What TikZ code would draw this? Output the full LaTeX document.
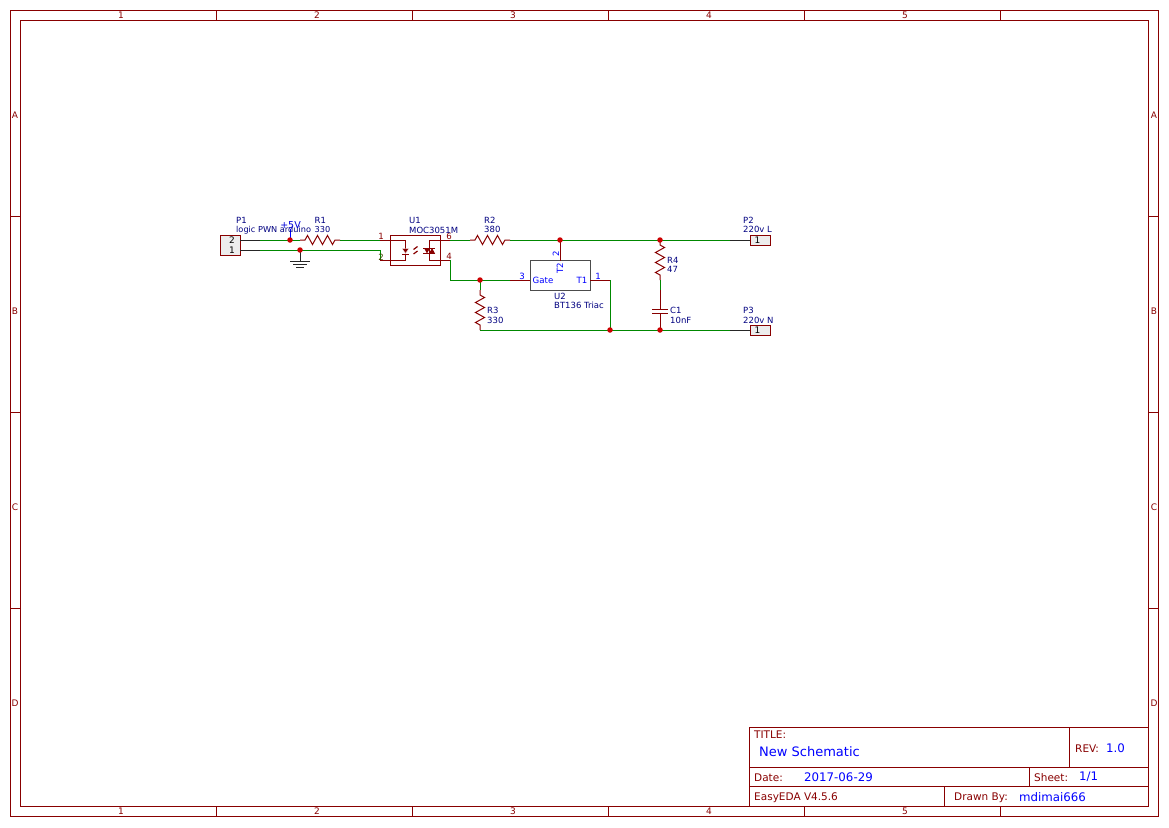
\documentclass[tikz,border=0pt]{standalone}
\usepackage{fontspec}
\setmainfont{DejaVu Sans}
\definecolor{sheetred}{RGB}{136,0,0}
\definecolor{wiregreen}{RGB}{0,136,0}
\definecolor{netblue}{RGB}{0,0,128}
\definecolor{pinblue}{RGB}{0,0,255}
\definecolor{dotred}{RGB}{204,0,0}
\tikzset{
  sheet/.style={draw=sheetred,line width=1pt},
  wire/.style={draw=wiregreen,line width=1pt},
  partline/.style={draw=sheetred,line width=1pt},
  lead/.style={draw=black!85,line width=1pt},
  junction/.style={circle,fill=dotred,inner sep=0pt,minimum size=5.5pt},
  sheettext/.style={text=sheetred,font=\fontsize{9}{9}\selectfont,inner sep=0pt},
  titletext/.style={text=sheetred,font=\fontsize{10.5}{10.5}\selectfont,anchor=west,inner sep=0pt},
  titlevalue/.style={text=pinblue,font=\fontsize{11.8}{11.8}\selectfont,anchor=west,inner sep=0pt},
  partlabel/.style={text=netblue,font=\fontsize{8.5}{8.5}\selectfont,anchor=west,inner sep=0pt},
  pinname/.style={text=pinblue,font=\fontsize{8.6}{8.6}\selectfont,inner sep=0pt},
  pinnum/.style={text=sheetred,font=\fontsize{8.6}{8.6}\selectfont,inner sep=0pt},
}
\begin{document}
\begin{tikzpicture}[x=1pt,y=1pt,yscale=-1]
\useasboundingbox (0,0) rectangle (1169,827);

%Sheet frame
\draw [sheet] (10,10.5) rectangle (1158.5,816);
\draw [sheet] (20,20.5) rectangle (1148.5,806);
%Zone ticks, top and bottom
\draw [sheet] (216,10.5) -- (216,20.5) (412,10.5) -- (412,20.5) (608,10.5) -- (608,20.5) (804,10.5) -- (804,20.5) (1000,10.5) -- (1000,20.5) ;
\draw [sheet] (216,806) -- (216,816) (412,806) -- (412,816) (608,806) -- (608,816) (804,806) -- (804,816) (1000,806) -- (1000,816) ;
%Zone ticks, left and right
\draw [sheet] (10,216) -- (20,216) (10,412) -- (20,412) (10,608) -- (20,608) ;
\draw [sheet] (1148.5,216) -- (1158.5,216) (1148.5,412) -- (1158.5,412) (1148.5,608) -- (1158.5,608) ;

% Zone labels
\foreach \zn/\zx in {1/121,2/317,3/513,4/709,5/905} {
  \node [sheettext] (top\zn) at (\zx,15.5) {\zn};
  \node [sheettext] (bot\zn) at (\zx,811) {\zn};
}
\foreach \zn/\zy in {A/115,B/311,C/507,D/703} {
  \node [sheettext] (left\zn) at (15,\zy) {\zn};
  \node [sheettext] (right\zn) at (1154,\zy) {\zn};
}

%Title block
\draw [sheet] (749,727) rectangle (1148.5,806);
\draw [sheet] (749,767) -- (1148.5,767) (749,786) -- (1148.5,786) ;
\draw [sheet] (1069,727) -- (1069,767) (1029,767) -- (1029,786) (944,786) -- (944,806) ;
% Title block text
\node [titletext] (titlekey) at (754,734.5) {TITLE:};
\node [titlevalue,font=\fontsize{13}{13}\selectfont] (titleval) at (759,751.5) {New Schematic};
\node [titletext] (revkey) at (1075,748.5) {REV:};
\node [titlevalue] (revval) at (1106,748.5) {1.0};
\node [titletext] (datekey) at (754,777.5) {Date:};
\node [titlevalue] (dateval) at (804,777) {2017-06-29};
\node [titletext] (sheetkey) at (1034,777.5) {Sheet:};
\node [titlevalue] (sheetval) at (1079,777) {1/1};
\node [titletext] (version) at (754,797.5) {EasyEDA V4.5.6};
\node [titletext] (drawnkey) at (954,797.5) {Drawn By:};
\node [titlevalue] (drawnval) at (1019,797) {mdimai666};

% Named points of the net
\coordinate (p1a) at (240,240);
\coordinate (p1ae) at (260,240);
\coordinate (p1b) at (240,250);
\coordinate (p1be) at (260,250);
\coordinate (r1a) at (300,240);
\coordinate (r1b) at (340,240);
\coordinate (u1a) at (380,240);
\coordinate (u1b) at (380,260);
\coordinate (u1bk) at (380,250);
\coordinate (u1f) at (450,240);
\coordinate (u1d) at (450,260);
\coordinate (u1dk) at (450,280);
\coordinate (r2a) at (470,240);
\coordinate (r2b) at (510,240);
\coordinate (p2a) at (730,240);
\coordinate (p2b) at (750,240);
\coordinate (r3a) at (480,290);
\coordinate (r3b) at (480,330);
\coordinate (u2g) at (510,280);
\coordinate (u2t) at (610,280);
\coordinate (r4a) at (660,280);
\coordinate (c1a) at (660,290);
\coordinate (p3a) at (730,330);
\coordinate (p3b) at (750,330);

%Wires
\draw [wire] (p1ae) -- (r1a) ;
\draw [wire] (r1b) -- (u1a) ;
\draw [wire] (p1be) -- (u1bk) -- (u1b) ;
\draw [wire] (u1f) -- (r2a) ;
\draw [wire] (r2b) -- (p2a) ;
\draw [wire] (u1d) -- (u1dk) -- (u2g) ;
\draw [wire] (u1dk -| r3a) -- (r3a) ;
\draw [wire] (r3b) -- (p3a) ;
\draw [wire] (u2t) -- (u2t |- r3b) ;
\draw [wire] (r4a) -- (c1a) ;

%Connector P1
\draw [partline,fill=black!7] (220,235.5) rectangle (240,255.5) ;
\draw [lead] (p1a) -- (p1ae) (p1b) -- (p1be) ;
\node [inner sep=0pt,font=\fontsize{9}{9}\selectfont] (p1n2) at (232,240.5) {2};
\node [inner sep=0pt,font=\fontsize{9}{9}\selectfont] (p1n1) at (232,250.5) {1};
%Connector P2
\draw [partline,fill=black!7] (750,235.5) rectangle (770,245.5) ;
\draw [lead] (p2a) -- (p2b) ;
\node [inner sep=0pt,font=\fontsize{9}{9}\selectfont] (p2n1) at (757.5,240.5) {1};
%Connector P3
\draw [partline,fill=black!7] (750,325.5) rectangle (770,335.5) ;
\draw [lead] (p3a) -- (p3b) ;
\node [inner sep=0pt,font=\fontsize{9}{9}\selectfont] (p3n1) at (757.5,330.5) {1};

%Power flag +5V
\coordinate (j5vpt) at (290,240);
\coordinate (flagtop) at (290,229);
\draw [draw=pinblue,line width=1pt] (j5vpt) -- (flagtop) ;
%Ground
\coordinate (jgndpt) at (300,250);
\coordinate (gndtop) at (300,261);
\draw [lead] (jgndpt) -- (gndtop) ;
\draw [lead] (290,261) -- (310,261) (293,264) -- (307,264) (296,267) -- (304,267) ;

%Resistor R1
\draw [partline] (r1a) -- (305,240) -- (307.5,235.5) -- (312.5,244.5) -- (317.5,235.5) -- (322.5,244.5) -- (327.5,235.5) -- (332.5,244.5) -- (335,240) -- (r1b) ;
%Resistor R2
\draw [partline] (r2a) -- (475,240) -- (477.5,235.5) -- (482.5,244.5) -- (487.5,235.5) -- (492.5,244.5) -- (497.5,235.5) -- (502.5,244.5) -- (505,240) -- (r2b) ;
%Resistor R3
\draw [partline] (r3a) -- (480,295) -- (484.5,297.5) -- (475.5,302.5) -- (484.5,307.5) -- (475.5,312.5) -- (484.5,317.5) -- (475.5,322.5) -- (480,325) -- (r3b) ;
%Resistor R4
\draw [partline] (660,240) -- (660,245) -- (664.5,247.5) -- (655.5,252.5) -- (664.5,257.5) -- (655.5,262.5) -- (664.5,267.5) -- (655.5,272.5) -- (660,275) -- (r4a) ;
%Capacitor C1
\draw [partline] (c1a) -- (660,309) (652,309) -- (668,309) (652,313) -- (668,313) (660,313) -- (660,330) ;

%Optocoupler U1
\draw [partline] (390,235.5) rectangle (440,265.5) ;
\draw [partline] (u1a) -- (405,240) -- (405,260) -- (u1b) ;
\draw [partline] (u1f) -- (429.5,240) -- (429.5,260) -- (u1d) ;
\fill [sheetred,draw=white,line width=0.4pt] (402,248.5) -- (409,248.5) -- (405.5,253.5) -- cycle ;
\draw [partline,line width=0.8pt] (402,254) -- (409,254) ;
\draw [partline,line width=1.2pt] (413.5,249.5) -- (417.5,246.5) (413.5,254) -- (417.5,251) ;
\fill [sheetred] (424,248) -- (430,248) -- (427,253.5) -- cycle ;
\fill [sheetred] (429,253.5) -- (435,253.5) -- (432,248) -- cycle ;
\draw [partline,line width=0.8pt] (423,248) -- (435,248) (423,253.8) -- (435,253.8) ;

%Triac U2
\draw [draw=black!70,line width=1pt] (530,260.5) rectangle (590,290.5) ;
\draw [partline] (560,240) -- (560,260.5) ;
\draw [partline] (u2g) -- (530,280) ;
\draw [partline] (590,280) -- (u2t) ;

% Junctions
\node [junction] (j5v) at (j5vpt) {};
\node [junction] (jgnd) at (jgndpt) {};
\node [junction] (jt2) at (560,240) {};
\node [junction] (jr4) at (660,240) {};
\node [junction] (jr3) at (480,280) {};
\node [junction] (jt1) at (610,330) {};
\node [junction] (jc1) at (660,330) {};

% Pin labels
\node [pinnum] (u1p1) at (381,236.5) {1};
\node [pinnum,text=wiregreen!50!sheetred] (u1p2) at (381,257) {2};
\node [pinnum] (u1p6) at (449,236.5) {6};
\node [pinnum] (u1p4) at (449,256.5) {4};
\node [pinname,rotate=90] (u2p2) at (556,253.5) {2};
\node [pinname,rotate=90] (u2t2) at (560,268.5) {T2};
\node [pinname] (u2p3) at (522,276.5) {3};
\node [pinname] (u2gate) at (543,280.5) {Gate};
\node [pinname] (u2t1) at (582,280.5) {T1};
\node [pinname] (u2p1) at (598,276.5) {1};

% Part labels
\node [partlabel] (p1id) at (236,220) {P1};
\node [partlabel,font=\fontsize{8.2}{8.2}\selectfont] (p1val) at (236,230) {logic PWN arduino};
\node [partlabel,anchor=center,text=pinblue!70!netblue,font=\fontsize{9.5}{9.5}\selectfont] (flag5v) at (290.5,225) {+5V};
\node [partlabel] (r1id) at (314.5,220.5) {R1};
\node [partlabel,font=\fontsize{8.2}{8.2}\selectfont] (r1val) at (314.5,229.5) {330};
\node [partlabel] (u1id) at (409,220.5) {U1};
\node [partlabel] (u1val) at (409,230) {MOC3051M};
\node [partlabel] (r2id) at (484,220.5) {R2};
\node [partlabel] (r2val) at (484,229.5) {380};
\node [partlabel] (r3id) at (487,310.5) {R3};
\node [partlabel] (r3val) at (487,320) {330};
\node [partlabel] (r4id) at (667,260.5) {R4};
\node [partlabel] (r4val) at (667,269.5) {47};
\node [partlabel] (c1id) at (670,310.5) {C1};
\node [partlabel] (c1val) at (670,320) {10nF};
\node [partlabel] (u2id) at (554,296) {U2};
\node [partlabel] (u2val) at (554,305) {BT136 Triac};
\node [partlabel] (p2id) at (743,220.5) {P2};
\node [partlabel] (p2val) at (743,229.5) {220v L};
\node [partlabel] (p3id) at (743,310.5) {P3};
\node [partlabel] (p3val) at (743,320) {220v N};

\end{tikzpicture}
\end{document}
